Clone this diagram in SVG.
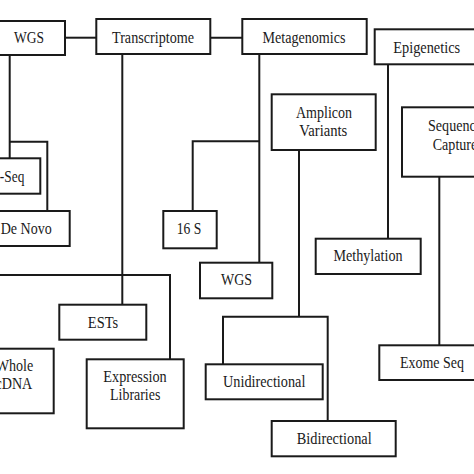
<svg xmlns="http://www.w3.org/2000/svg" width="474" height="474" viewBox="0 0 474 474">
<style>
rect.n{fill:#fff;stroke:#1a1a1a;stroke-width:2}
#connectors path{fill:none;stroke:#1a1a1a;stroke-width:2}
text{font-family:"Liberation Serif","Times New Roman",serif;font-size:17.5px;fill:#1a1a1a;text-anchor:middle}
</style>
<rect width="474" height="474" fill="#fff"/>
<g id="connectors">
<path d="M65 37.7H96.3"/>
<path d="M210.3 37.7H242.3"/>
<path d="M9.7 55V158.3"/>
<path d="M9.7 141.7H47.3V211"/>
<path d="M122.3 54V304.7"/>
<path d="M-5 275H170V359.3"/>
<path d="M259.3 54V262.7"/>
<path d="M259.3 141.3H192.7V211"/>
<path d="M388 64.3V238.7"/>
<path d="M299 150V316.7"/>
<path d="M223 364.3V316.7H327.7V421"/>
<path d="M439.3 176.7V345.3"/>
</g>
<g id="wgs"><rect class="n" x="-10" y="21" width="75" height="34"/><text x="29" y="43" textLength="30" lengthAdjust="spacingAndGlyphs">WGS</text></g>
<g id="transcriptome"><rect class="n" x="96.3" y="19" width="114" height="35"/><text x="153" y="42.5" textLength="82" lengthAdjust="spacingAndGlyphs">Transcriptome</text></g>
<g id="metagenomics"><rect class="n" x="242.3" y="19" width="124.4" height="35"/><text x="304" y="42.5" textLength="83" lengthAdjust="spacingAndGlyphs">Metagenomics</text></g>
<g id="epigenetics"><rect class="n" x="374.7" y="29.3" width="120" height="35"/><text x="426.7" y="53" textLength="67" lengthAdjust="spacingAndGlyphs">Epigenetics</text></g>
<g id="amplicon-variants"><rect class="n" x="271.7" y="94.3" width="104" height="55.7"/><text x="324" y="117.5" textLength="56" lengthAdjust="spacingAndGlyphs">Amplicon</text><text x="323.3" y="136" textLength="48" lengthAdjust="spacingAndGlyphs">Variants</text></g>
<g id="sequence-capture"><rect class="n" x="402" y="107.3" width="110" height="69.4"/><text x="455" y="131" textLength="54" lengthAdjust="spacingAndGlyphs">Sequence</text><text x="455" y="149.7" textLength="44.6" lengthAdjust="spacingAndGlyphs">Capture</text></g>
<g id="rna-seq"><rect class="n" x="-10" y="158.3" width="50.3" height="35.4"/><text x="24.3" y="182" style="text-anchor:end" textLength="24.5" lengthAdjust="spacingAndGlyphs">-Seq</text></g>
<g id="de-novo"><rect class="n" x="-10" y="211" width="79.7" height="35"/><text x="51.7" y="233.5" style="text-anchor:end" textLength="51" lengthAdjust="spacingAndGlyphs">De Novo</text></g>
<g id="s16"><rect class="n" x="163.3" y="211" width="53.4" height="37.3"/><text x="189" y="233.5" textLength="24.6" lengthAdjust="spacingAndGlyphs">16 S</text></g>
<g id="wgs2"><rect class="n" x="200" y="262.7" width="72.3" height="35.6"/><text x="236.5" y="285" textLength="31" lengthAdjust="spacingAndGlyphs">WGS</text></g>
<g id="methylation"><rect class="n" x="315.7" y="238.7" width="105" height="35.3"/><text x="368" y="261" textLength="69" lengthAdjust="spacingAndGlyphs">Methylation</text></g>
<g id="ests"><rect class="n" x="59.3" y="304.7" width="87" height="35"/><text x="103" y="327.7" textLength="30.3" lengthAdjust="spacingAndGlyphs">ESTs</text></g>
<g id="whole-cdna"><rect class="n" x="-10" y="348.7" width="63.7" height="64.6"/><text x="33.3" y="370.7" style="text-anchor:end" textLength="37.6" lengthAdjust="spacingAndGlyphs">Whole</text><text x="32.3" y="389.3" style="text-anchor:end" textLength="36.8" lengthAdjust="spacingAndGlyphs">cDNA</text></g>
<g id="expression-libraries"><rect class="n" x="86.7" y="359.3" width="97" height="69"/><text x="135" y="381.7" textLength="63.4" lengthAdjust="spacingAndGlyphs">Expression</text><text x="135.2" y="400" textLength="50.3" lengthAdjust="spacingAndGlyphs">Libraries</text></g>
<g id="unidirectional"><rect class="n" x="205.7" y="364.3" width="117" height="35"/><text x="264.2" y="386.7" textLength="82.3" lengthAdjust="spacingAndGlyphs">Unidirectional</text></g>
<g id="bidirectional"><rect class="n" x="271.7" y="421" width="124" height="35.3"/><text x="334.2" y="444" textLength="75" lengthAdjust="spacingAndGlyphs">Bidirectional</text></g>
<g id="exome-seq"><rect class="n" x="379.3" y="345.3" width="120" height="34.7"/><text x="432" y="367.7" textLength="64" lengthAdjust="spacingAndGlyphs">Exome Seq</text></g>
</svg>
